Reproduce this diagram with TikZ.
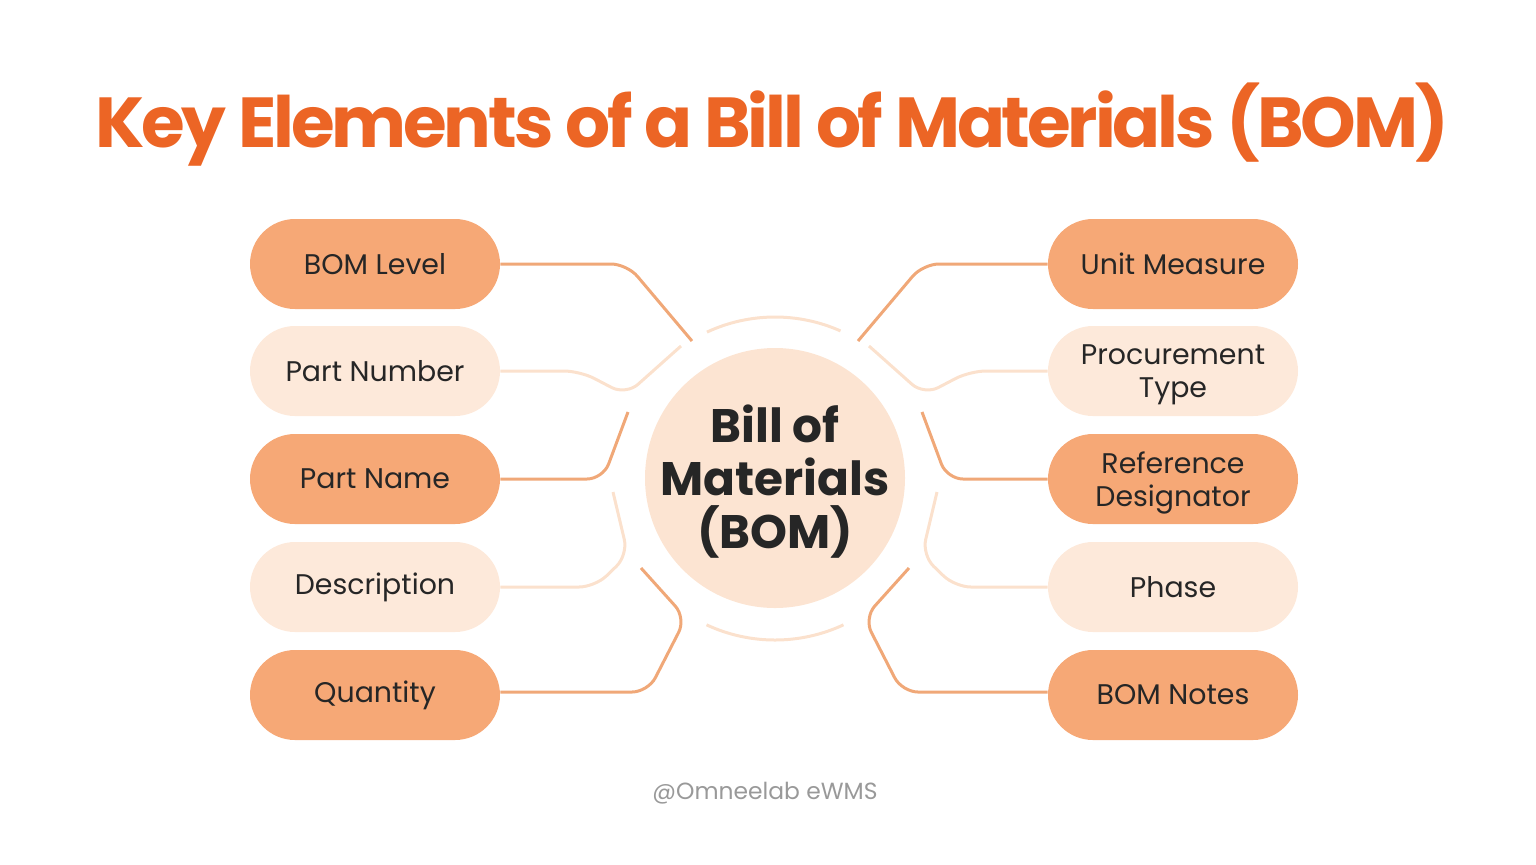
\documentclass[tikz,border=0pt]{standalone}
\usepackage{fontspec}
\setmainfont{Poppins}
\usetikzlibrary{positioning}

\definecolor{titleorange}{HTML}{EC6525}
\definecolor{pilldark}{HTML}{F6A876}
\definecolor{pilllight}{HTML}{FDE9DA}
\definecolor{hubfill}{HTML}{FCE4D2}
\definecolor{linedark}{HTML}{F0A878}
\definecolor{linelight}{HTML}{FBE1CD}
\definecolor{textdark}{HTML}{262626}

\begin{document}
\begin{tikzpicture}[x=0.5pt,y=-0.5pt,font=\fontsize{14.2}{16.5}\selectfont,
    darkpill/.style={rectangle, rounded corners=22.5pt, fill=pilldark, minimum width=125pt, minimum height=45pt, text=textdark, align=center, inner sep=0pt},
    lightpill/.style={darkpill, fill=pilllight},
    twoline/.style={label={[text=textdark, align=center, yshift=-2pt]center:#1}},
    darkline/.style={draw=linedark, line width=1.5pt, rounded corners=8pt},
    lightline/.style={draw=linelight, line width=1.5pt, rounded corners=8pt}]

      \useasboundingbox (0,0) rectangle (1536,864);
   %   \draw[help lines] (0,0) grid[step=100] (1536,864);

      \node (title) [text=titleorange, font=\fontsize{35.4}{40}\selectfont\bfseries\addfontfeatures{LetterSpace=-4.5}] at (772,125) {Key Elements of a Bill of Materials (BOM)};

      % centre
      \node (hub) [circle, fill=hubfill, minimum size=130pt, inner sep=0pt] at (775,478) {};
      \node (hubtext) [align=center, text=textdark, font=\fontsize{23.5}{26.5}\selectfont\bfseries, yshift=-2pt] at (hub.center) {Bill of\\Materials\\(BOM)};
      \draw[linelight, line width=1.5pt] (hub.center) ++(245:161) arc (245:294:161);
      \draw[linelight, line width=1.5pt] (hub.center) ++(65:162) arc (65:115:162);

      % left column
      \node (bomlevel) [darkpill] at (375,264) {BOM Level};
      \node (partnumber) [lightpill] at (375,371) {Part Number};
      \node (partname) [darkpill] at (375,479) {Part Name};
      \node (description) [lightpill] at (375,587) {Description};
      \node (quantity) [darkpill] at (375,695) {Quantity};

      % right column
      \node (unitmeasure) [darkpill] at (1173,264) {Unit Measure};
      \node (procurement) [lightpill, twoline={Procurement\\Type}] at (1173,371) {};
      \node (refdesig) [darkpill, twoline={Reference\\Designator}] at (1173,479) {};
      \node (phase) [lightpill] at (1173,587) {Phase};
      \node (bomnotes) [darkpill] at (1173,695) {BOM Notes};

      \coordinate (l1) at (692,341);
      \coordinate (l2) at (681,346);
      \coordinate (l3) at (628,412);
      \coordinate (l4) at (613,492);
      \coordinate (l5) at (641,568);
      \coordinate (r1) at (858,341);
      \coordinate (r2) at (869,346);
      \coordinate (r3) at (922,412);
      \coordinate (r4) at (937,492);
      \coordinate (r5) at (909,568);

      \draw[darkline] (bomlevel.east) -- (627,264) -- (l1);
      \draw[lightline] (partnumber.east) -- (580,371) -- (626,395) -- (l2);
      \draw[darkline] (partname.east) -- (603,479) -- (l3);
      \draw[lightline] (description.east) -- (595,587) -- (628,555) -- (l4);
      \draw[darkline] (quantity.east |- 0,692) -- (648,692) -- (686,618) -- (l5);

      \draw[darkline] (unitmeasure.west) -- (923,264) -- (r1);
      \draw[lightline] (procurement.west) -- (970,371) -- (924,395) -- (r2);
      \draw[darkline] (refdesig.west) -- (947,479) -- (r3);
      \draw[lightline] (phase.west) -- (955,587) -- (922,555) -- (r4);
      \draw[darkline] (bomnotes.west |- 0,692) -- (902,692) -- (864,618) -- (r5);

      \node (footer) [text=black!40, font=\fontsize{11.7}{14}\selectfont] at (765,793) {@Omneelab eWMS};

\end{tikzpicture}
\end{document}
